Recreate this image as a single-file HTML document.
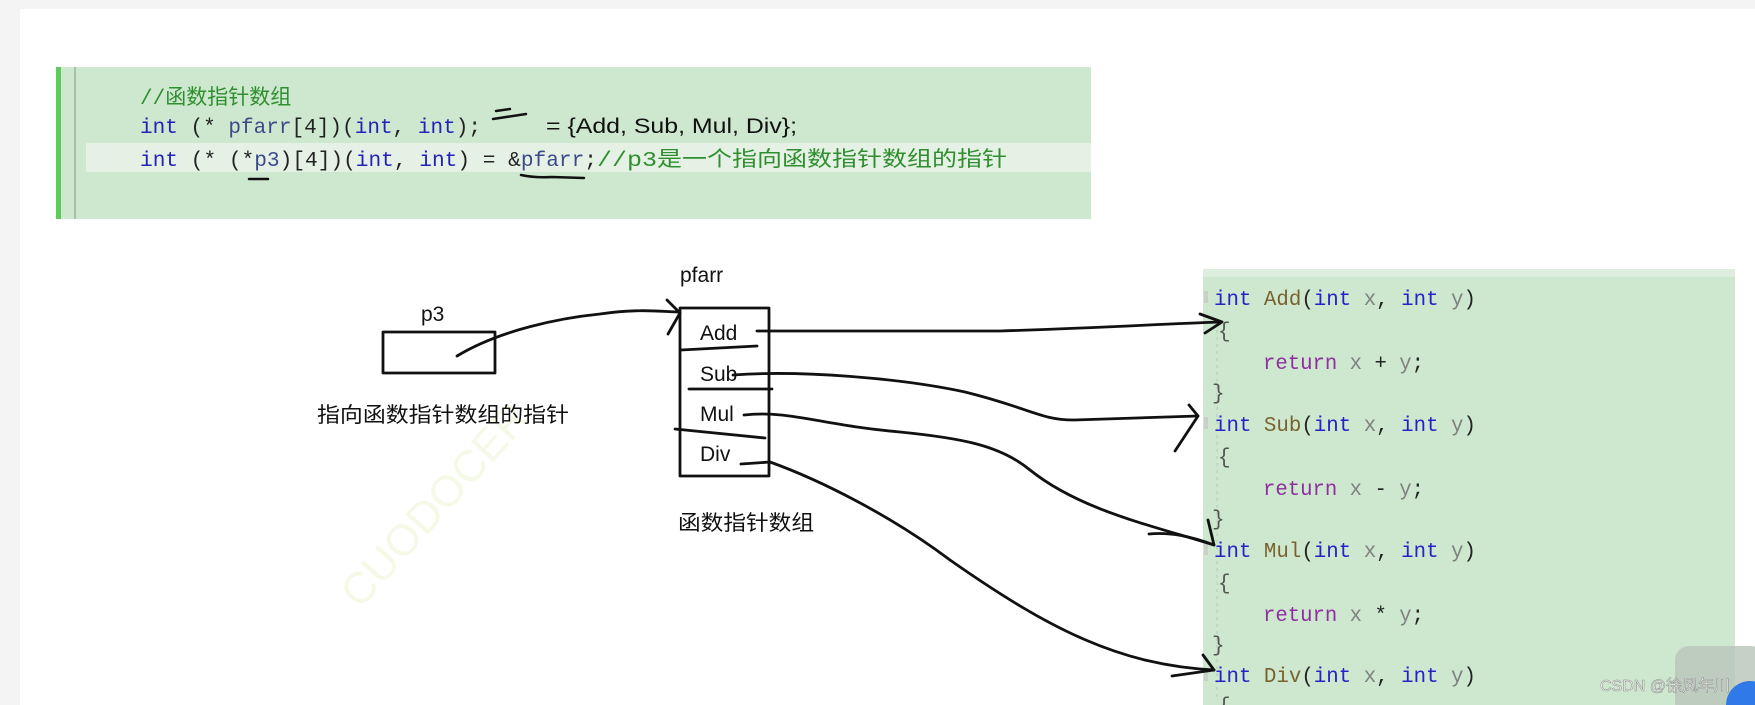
<!DOCTYPE html>
<html><head><meta charset="utf-8"><style>
html,body{margin:0;padding:0;background:#fff;}
svg{display:block;}
</style></head><body>
<svg width="1755" height="705" viewBox="0 0 1755 705" xmlns="http://www.w3.org/2000/svg">
<rect x="0" y="0" width="1755" height="705" fill="#f4f4f4"/>
<rect x="20" y="9" width="1735" height="696" fill="#fff"/>
<text x="360" y="610" font-family="Liberation Sans, sans-serif" font-size="44" fill="#f5fae6" transform="rotate(-48 360 610)">CUODOCER</text>
<!-- top code block -->
<rect x="56" y="67" width="1035" height="152" fill="#cde8cf"/>
<rect x="56" y="67" width="5" height="152" fill="#5ccc5c"/>
<rect x="74" y="67" width="2" height="152" fill="#a9bfa9"/>
<rect x="86" y="143" width="1005" height="29" fill="#e6f1e6"/>
<g font-family="Liberation Mono, Noto Sans CJK SC, monospace" font-size="21">
<text x="140" y="104" fill="#2f8f2f">//函数指针数组</text>
<text x="140" y="133" textLength="341" lengthAdjust="spacingAndGlyphs"><tspan fill="#2323b8">int</tspan><tspan fill="#222"> (* </tspan><tspan fill="#3b4a8a">pfarr</tspan><tspan fill="#222">[4])(</tspan><tspan fill="#2323b8">int</tspan><tspan fill="#222">, </tspan><tspan fill="#2323b8">int</tspan><tspan fill="#222">);</tspan></text>
<text x="140" y="166" textLength="457" lengthAdjust="spacingAndGlyphs"><tspan fill="#2323b8">int</tspan><tspan fill="#222"> (* (*</tspan><tspan fill="#3b4a8a">p3</tspan><tspan fill="#222">)[4])(</tspan><tspan fill="#2323b8">int</tspan><tspan fill="#222">, </tspan><tspan fill="#2323b8">int</tspan><tspan fill="#222">) = &amp;</tspan><tspan fill="#3b4a8a">pfarr</tspan><tspan fill="#222">;</tspan></text>
<text x="597" y="166" fill="#2f8f2f" textLength="410" lengthAdjust="spacingAndGlyphs">//p3是一个指向函数指针数组的指针</text>
</g>
<text x="546" y="133" font-family="Liberation Sans, sans-serif" font-size="21" fill="#111" textLength="251" lengthAdjust="spacingAndGlyphs">= {Add, Sub, Mul, Div};</text>
<g stroke="#111" stroke-width="2.5" fill="none" stroke-linecap="round">
<path d="M496 111 L510 109"/><path d="M493 119 L526 114"/>
<path d="M249 179 L268 179"/><path d="M521 175 Q535 178 552 177 L584 178"/>
</g>
<!-- right code panel -->
<rect x="1203" y="269" width="532" height="436" fill="#cde8cf"/>
<rect x="1203" y="269" width="532" height="8" fill="#deeede"/>
<line x1="1217" y1="330" x2="1217" y2="700" stroke="#b8c8b8" stroke-dasharray="3,4"/>
<g font-family="Liberation Mono, monospace" font-size="21">
<text x="1214" y="305" textLength="262" lengthAdjust="spacingAndGlyphs"><tspan fill="#2323c8">int</tspan><tspan fill="#7a6230"> Add</tspan><tspan fill="#222">(</tspan><tspan fill="#2323c8">int</tspan><tspan fill="#808080"> x</tspan><tspan fill="#222">, </tspan><tspan fill="#2323c8">int</tspan><tspan fill="#808080"> y</tspan><tspan fill="#222">)</tspan></text>
<text x="1218" y="337" fill="#555">{</text>
<text x="1263" y="369" textLength="161" lengthAdjust="spacingAndGlyphs"><tspan fill="#8f2f9f">return</tspan><tspan fill="#808080"> x </tspan><tspan fill="#222">+</tspan><tspan fill="#808080"> y</tspan><tspan fill="#222">;</tspan></text>
<text x="1212" y="399" fill="#555">}</text>
<text x="1214" y="431" textLength="262" lengthAdjust="spacingAndGlyphs"><tspan fill="#2323c8">int</tspan><tspan fill="#7a6230"> Sub</tspan><tspan fill="#222">(</tspan><tspan fill="#2323c8">int</tspan><tspan fill="#808080"> x</tspan><tspan fill="#222">, </tspan><tspan fill="#2323c8">int</tspan><tspan fill="#808080"> y</tspan><tspan fill="#222">)</tspan></text>
<text x="1218" y="463" fill="#555">{</text>
<text x="1263" y="495" textLength="161" lengthAdjust="spacingAndGlyphs"><tspan fill="#8f2f9f">return</tspan><tspan fill="#808080"> x </tspan><tspan fill="#222">-</tspan><tspan fill="#808080"> y</tspan><tspan fill="#222">;</tspan></text>
<text x="1212" y="525" fill="#555">}</text>
<text x="1214" y="557" textLength="262" lengthAdjust="spacingAndGlyphs"><tspan fill="#2323c8">int</tspan><tspan fill="#7a6230"> Mul</tspan><tspan fill="#222">(</tspan><tspan fill="#2323c8">int</tspan><tspan fill="#808080"> x</tspan><tspan fill="#222">, </tspan><tspan fill="#2323c8">int</tspan><tspan fill="#808080"> y</tspan><tspan fill="#222">)</tspan></text>
<text x="1218" y="589" fill="#555">{</text>
<text x="1263" y="621" textLength="161" lengthAdjust="spacingAndGlyphs"><tspan fill="#8f2f9f">return</tspan><tspan fill="#808080"> x </tspan><tspan fill="#222">*</tspan><tspan fill="#808080"> y</tspan><tspan fill="#222">;</tspan></text>
<text x="1212" y="651" fill="#555">}</text>
<text x="1214" y="682" textLength="262" lengthAdjust="spacingAndGlyphs"><tspan fill="#2323c8">int</tspan><tspan fill="#7a6230"> Div</tspan><tspan fill="#222">(</tspan><tspan fill="#2323c8">int</tspan><tspan fill="#808080"> x</tspan><tspan fill="#222">, </tspan><tspan fill="#2323c8">int</tspan><tspan fill="#808080"> y</tspan><tspan fill="#222">)</tspan></text>
<text x="1218" y="712" fill="#555">{</text>
</g>
<g fill="#c8d0c8"><rect x="1204" y="291" width="4" height="12"/><rect x="1204" y="417" width="4" height="12"/><rect x="1204" y="543" width="4" height="12"/><rect x="1204" y="669" width="4" height="12"/></g>
<!-- diagram -->
<g font-family="Liberation Sans, Noto Sans CJK SC, sans-serif" font-size="21" fill="#111">
<text x="421" y="321">p3</text>
<text x="317" y="422" textLength="252" lengthAdjust="spacingAndGlyphs">指向函数指针数组的指针</text>
<text x="680" y="282">pfarr</text>
<text x="700" y="340">Add</text>
<text x="700" y="381">Sub</text>
<text x="700" y="421">Mul</text>
<text x="700" y="461">Div</text>
<text x="678" y="530" textLength="136" lengthAdjust="spacingAndGlyphs">函数指针数组</text>
</g>
<g stroke="#111" fill="none" stroke-width="2.8" stroke-linecap="round" stroke-linejoin="round">
<rect x="383" y="332" width="112" height="41"/>
<rect x="680" y="308" width="89" height="168"/>
<path d="M681 350 L757 346"/>
<path d="M689 389 L772 389"/>
<path d="M675 429 L765 438"/>
<path d="M457 356 C500 330 560 318 600 314 C640 308 665 312 680 312"/>
<path d="M667 300 L680 313 L668 334"/>
<path d="M757 331 L1000 331 C1100 328 1160 324 1220 322"/>
<path d="M1200 314 L1222 322 L1205 333"/>
<path d="M733 375 C800 370 900 378 965 392 C1030 408 1040 420 1074 420 L1198 416"/>
<path d="M1189 405 L1198 416 L1175 451"/>
<path d="M744 415 C790 410 820 425 900 432 C960 438 1000 445 1030 470 C1080 510 1150 525 1214 545"/>
<path d="M1149 534 C1170 532 1190 536 1214 545 L1208 520"/>
<path d="M741 464 L770 462 C820 480 890 515 950 560 C1050 630 1120 665 1214 670"/>
<path d="M1172 676 L1214 670 L1203 655"/>
</g>
<!-- watermark -->
<rect x="1675" y="646" width="90" height="70" rx="14" fill="#b9c4b9" opacity="0.8"/>
<circle cx="1750" cy="705" r="24" fill="#2f7ae8"/>
<text x="1600" y="691" font-family="Liberation Sans, Noto Sans CJK SC, sans-serif" font-size="16" fill="#f4f4f4" stroke="#888" stroke-width="0.5">CSDN @徐风年川</text>
</svg>
</body></html>
